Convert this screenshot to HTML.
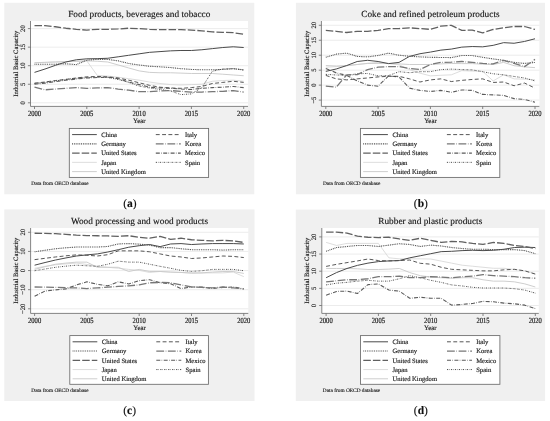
<!DOCTYPE html>
<html><head><meta charset="utf-8"><title>Industrial Basic Capacity</title>
<style>html,body{margin:0;padding:0;background:#fff;}svg{display:block;filter:blur(0.3px);}.t{fill:#1a1a1a;stroke:#1a1a1a;stroke-width:1.5px;}.u{fill:#111;stroke:#111;stroke-width:1.2px;}</style></head>
<body><svg width="550" height="421" viewBox="0 0 550 421" font-family="'Liberation Serif','Times New Roman',serif">
<rect width="550" height="421" fill="#fff"/>
<rect x="4.3" y="2.8" width="250" height="191.5" fill="#f0f0f0"/>
<rect x="30.5" y="21" width="217.5" height="85.4" fill="#fff"/>
<path d="M30.5,102.8H248" stroke="#e4e4e4" stroke-width="0.7"/>
<path d="M30.5,84.25H248" stroke="#e4e4e4" stroke-width="0.7"/>
<path d="M30.5,65.7H248" stroke="#e4e4e4" stroke-width="0.7"/>
<path d="M30.5,47.15H248" stroke="#e4e4e4" stroke-width="0.7"/>
<path d="M30.5,28.6H248" stroke="#e4e4e4" stroke-width="0.7"/>
<g fill="none" stroke-linejoin="round">
<path d="M34.5,62.73L44.96,62.36L55.42,61.99L65.88,61.62L76.34,61.25L86.8,60.88L97.26,75.35L107.72,76.09L118.18,77.2L128.64,78.69L139.1,80.17L149.56,82.02L160.02,83.51L170.48,84.62L180.94,84.99L191.4,84.62L201.86,84.25L212.32,81.28L222.78,80.54L233.24,80.17L243.7,81.28" stroke="#d4d4d4" stroke-width="0.8"/>
<path d="M34.5,62.73L44.96,62.36L55.42,61.99L65.88,61.62L76.34,61.25L86.8,60.88L97.26,61.25L107.72,61.99L118.18,64.96L128.64,67.93L139.1,70.89L149.56,72.38L160.02,72.75L170.48,72.75L180.94,73.12L191.4,73.49L201.86,73.49L212.32,73.49L222.78,74.23L233.24,74.97L243.7,75.72" stroke="#c8c8c8" stroke-width="0.9"/>
<path d="M34.5,64.22L44.96,64.22L55.42,64.22L65.88,63.84L76.34,64.59L86.8,60.14L97.26,59.39L107.72,59.39L118.18,60.88L128.64,63.47L139.1,64.96L149.56,66.26L160.02,66.81L170.48,67.56L180.94,68.67L191.4,69.41L201.86,69.78L212.32,69.78L222.78,69.41L233.24,68.67L243.7,69.78" stroke="#444" stroke-width="1.1" stroke-dasharray="0.9 0.9"/>
<path d="M34.5,83.51L44.96,82.4L55.42,80.91L65.88,79.43L76.34,78.31L86.8,77.57L97.26,77.2L107.72,77.57L118.18,79.43L128.64,82.4L139.1,86.1L149.56,87.96L160.02,89.44L170.48,90.93L180.94,94.64L191.4,93.9L201.86,87.59L212.32,71.27L222.78,69.04L233.24,68.67L243.7,70.15" stroke="#3a3a3a" stroke-width="0.9" stroke-dasharray="1.2 0.95 0.5 1.3"/>
<path d="M34.5,84.25L44.96,83.14L55.42,81.65L65.88,80.17L76.34,79.06L86.8,77.94L97.26,77.57L107.72,77.2L118.18,78.69L128.64,82.02L139.1,84.62L149.56,87.22L160.02,87.96L170.48,88.33L180.94,89.07L191.4,89.44L201.86,88.33L212.32,87.59L222.78,87.22L233.24,86.48L243.7,87.59" stroke="#5a5a5a" stroke-width="1.1" stroke-dasharray="4 1.3 0.6 1.5"/>
<path d="M34.5,87.22L44.96,89.81L55.42,89.07L65.88,88.33L76.34,87.59L86.8,88.33L97.26,87.96L107.72,87.59L118.18,89.07L128.64,90.19L139.1,91.67L149.56,91.67L160.02,90.93L170.48,90.56L180.94,91.3L191.4,92.04L201.86,92.04L212.32,91.67L222.78,91.3L233.24,90.56L243.7,92.04" stroke="#777" stroke-width="1.3" stroke-dasharray="7.8 1.6 0.6 1.6"/>
<path d="M34.5,83.14L44.96,82.02L55.42,80.54L65.88,79.43L76.34,77.94L86.8,76.83L97.26,76.46L107.72,76.83L118.18,77.94L128.64,80.17L139.1,82.77L149.56,85.36L160.02,87.22L170.48,87.96L180.94,88.33L191.4,87.59L201.86,86.48L212.32,83.51L222.78,82.4L233.24,81.28L243.7,82.4" stroke="#444" stroke-width="0.9" stroke-dasharray="3.9 2.4"/>
<path d="M34.5,72.38L44.96,69.04L55.42,65.33L65.88,61.99L76.34,59.76L86.8,58.84L97.26,58.65L107.72,58.28L118.18,56.8L128.64,55.31L139.1,53.83L149.56,52.34L160.02,51.6L170.48,50.86L180.94,50.49L191.4,50.49L201.86,49.75L212.32,48.63L222.78,47.52L233.24,46.78L243.7,47.52" stroke="#4a4a4a" stroke-width="1.0"/>
<path d="M34.5,25.63L44.96,25.63L55.42,26.75L65.88,28.23L76.34,29.34L86.8,30.08L97.26,29.34L107.72,29.34L118.18,28.97L128.64,28.23L139.1,28.6L149.56,29.34L160.02,29.71L170.48,29.71L180.94,29.71L191.4,30.08L201.86,30.83L212.32,31.94L222.78,32.31L233.24,32.68L243.7,34.17" stroke="#606060" stroke-width="1.3" stroke-dasharray="7.5 2.1"/>
</g>
<path d="M30.5,21V106.4H248M27.9,102.8H30.5M27.9,84.25H30.5M27.9,65.7H30.5M27.9,47.15H30.5M27.9,28.6H30.5M34.5,106.4V109M86.8,106.4V109M139.1,106.4V109M191.4,106.4V109M243.7,106.4V109" fill="none" stroke="#707070" stroke-width="0.85"/>
<text class="t" transform="translate(24.8,102.8) rotate(-90) skewX(0.1) scale(0.1)" font-size="66" text-anchor="middle">0</text><text class="t" transform="translate(24.8,84.25) rotate(-90) skewX(0.1) scale(0.1)" font-size="66" text-anchor="middle">5</text><text class="t" transform="translate(24.8,65.7) rotate(-90) skewX(0.1) scale(0.1)" font-size="66" text-anchor="middle">10</text><text class="t" transform="translate(24.8,47.15) rotate(-90) skewX(0.1) scale(0.1)" font-size="66" text-anchor="middle">15</text><text class="t" transform="translate(24.8,28.6) rotate(-90) skewX(0.1) scale(0.1)" font-size="66" text-anchor="middle">20</text><text class="t" transform="translate(34.5,115.7) skewX(0.1) scale(0.1,0.12)" font-size="66" text-anchor="middle">2000</text><text class="t" transform="translate(86.8,115.7) skewX(0.1) scale(0.1,0.12)" font-size="66" text-anchor="middle">2005</text><text class="t" transform="translate(139.1,115.7) skewX(0.1) scale(0.1,0.12)" font-size="66" text-anchor="middle">2010</text><text class="t" transform="translate(191.4,115.7) skewX(0.1) scale(0.1,0.12)" font-size="66" text-anchor="middle">2015</text><text class="t" transform="translate(243.7,115.7) skewX(0.1) scale(0.1,0.12)" font-size="66" text-anchor="middle">2020</text>
<text class="t" transform="translate(139.25,122.5) skewX(0.1) scale(0.1)" font-size="68" text-anchor="middle">Year</text>
<text class="t" transform="translate(17.7,63.7) rotate(-90) skewX(0.1) scale(0.1)" font-size="65.5" text-anchor="middle">Industrial Basic Capacity</text>
<text class="u" transform="translate(139.25,17.4) skewX(0.1) scale(0.1)" font-size="93" text-anchor="middle">Food products, beverages and tobacco</text>
<rect x="69.3" y="128.4" width="139.3" height="49" fill="#fff" stroke="#6a6a6a" stroke-width="0.85"/>
<path d="M72.1,134.6H96.8" stroke="#4a4a4a" stroke-width="1.0"/><path d="M72.1,143.85H96.8" stroke="#444" stroke-width="1.1" stroke-dasharray="0.9 0.9"/><path d="M72.1,153.1H96.8" stroke="#606060" stroke-width="1.3" stroke-dasharray="7.5 2.1"/><path d="M72.1,162.35H96.8" stroke="#d4d4d4" stroke-width="0.8"/><path d="M72.1,171.6H96.8" stroke="#c8c8c8" stroke-width="0.9"/><path d="M155.8,134.6H180.8" stroke="#444" stroke-width="0.9" stroke-dasharray="3.9 2.4"/><path d="M155.8,143.85H180.8" stroke="#777" stroke-width="1.3" stroke-dasharray="7.8 1.6 0.6 1.6"/><path d="M155.8,153.1H180.8" stroke="#5a5a5a" stroke-width="1.1" stroke-dasharray="4 1.3 0.6 1.5"/><path d="M155.8,162.35H180.8" stroke="#3a3a3a" stroke-width="0.9" stroke-dasharray="1.2 0.95 0.5 1.3"/>
<text class="t" transform="translate(101.3,136.9) skewX(0.1) scale(0.1)" font-size="66">China</text><text class="t" transform="translate(101.3,146.15) skewX(0.1) scale(0.1)" font-size="66">Germany</text><text class="t" transform="translate(101.3,155.4) skewX(0.1) scale(0.1)" font-size="66">United States</text><text class="t" transform="translate(101.3,164.65) skewX(0.1) scale(0.1)" font-size="66">Japan</text><text class="t" transform="translate(101.3,173.9) skewX(0.1) scale(0.1)" font-size="66">United Kingdom</text><text class="t" transform="translate(185,136.9) skewX(0.1) scale(0.1)" font-size="66">Italy</text><text class="t" transform="translate(185,146.15) skewX(0.1) scale(0.1)" font-size="66">Korea</text><text class="t" transform="translate(185,155.4) skewX(0.1) scale(0.1)" font-size="66">Mexico</text><text class="t" transform="translate(185,164.65) skewX(0.1) scale(0.1)" font-size="66">Spain</text>
<text class="t" transform="translate(31.3,185.1) skewX(0.1) scale(0.1)" font-size="53.5">Data from OECD database</text>
<text class="u" transform="translate(129.9,206.8) skewX(0.1) scale(0.1)" font-size="115" text-anchor="middle">(<tspan font-weight="bold">a</tspan>)</text>
<rect x="295.9" y="2.8" width="249.1" height="191.5" fill="#f0f0f0"/>
<rect x="321.4" y="21" width="218" height="85.4" fill="#fff"/>
<path d="M321.4,100.1H539.4" stroke="#e4e4e4" stroke-width="0.7"/>
<path d="M321.4,85.14H539.4" stroke="#e4e4e4" stroke-width="0.7"/>
<path d="M321.4,70.18H539.4" stroke="#e4e4e4" stroke-width="0.7"/>
<path d="M321.4,55.22H539.4" stroke="#e4e4e4" stroke-width="0.7"/>
<path d="M321.4,40.26H539.4" stroke="#e4e4e4" stroke-width="0.7"/>
<path d="M321.4,25.3H539.4" stroke="#e4e4e4" stroke-width="0.7"/>
<g fill="none" stroke-linejoin="round">
<path d="M325.8,67.19L336.26,66.59L346.72,65.69L357.18,64.5L367.64,63.3L378.1,62.4L388.56,63.6L399.02,64.79L409.48,69.58L419.94,73.17L430.4,75.86L440.86,75.27L451.32,74.82L461.78,70.63L472.24,71.08L482.7,71.38L493.16,80.95L503.62,74.82L514.08,78.86L524.54,79.16L535,79.75" stroke="#d4d4d4" stroke-width="0.8"/>
<path d="M325.8,65.54L336.26,65.99L346.72,65.69L357.18,64.5L367.64,63.45L378.1,63.45L388.56,63.45L399.02,63.9L409.48,64.5L419.94,64.5L430.4,64.5L440.86,63.9L451.32,63.45L461.78,63.6L472.24,63.6L482.7,64.2L493.16,64.5L503.62,62.4L514.08,65.69L524.54,66.89L535,67.64" stroke="#c8c8c8" stroke-width="0.9"/>
<path d="M325.8,57.31L336.26,54.17L346.72,53.13L357.18,56.42L367.64,56.87L378.1,55.52L388.56,53.13L399.02,55.22L409.48,56.27L419.94,56.87L430.4,57.31L440.86,57.46L451.32,57.61L461.78,55.52L472.24,55.52L482.7,57.31L493.16,58.96L503.62,60.31L514.08,62.4L524.54,63.45L535,62.4" stroke="#444" stroke-width="1.1" stroke-dasharray="0.9 0.9"/>
<path d="M325.8,74.37L336.26,74.97L346.72,75.42L357.18,73.77L367.64,73.47L378.1,75.86L388.56,75.57L399.02,71.68L409.48,72.72L419.94,71.68L430.4,71.68L440.86,69.58L451.32,69.13L461.78,69.58L472.24,69.88L482.7,71.68L493.16,73.77L503.62,74.82L514.08,76.46L524.54,77.96L535,80.95" stroke="#3a3a3a" stroke-width="0.9" stroke-dasharray="1.2 0.95 0.5 1.3"/>
<path d="M325.8,68.53L336.26,72.87L346.72,75.42L357.18,80.95L367.64,85.14L378.1,86.19L388.56,75.86L399.02,76.91L409.48,88.13L419.94,90.38L430.4,91.42L440.86,90.38L451.32,92.32L461.78,89.93L472.24,90.38L482.7,94.42L493.16,94.86L503.62,95.46L514.08,98.6L524.54,99.5L535,102.19" stroke="#5a5a5a" stroke-width="1.1" stroke-dasharray="4 1.3 0.6 1.5"/>
<path d="M325.8,86.19L336.26,87.23L346.72,74.82L357.18,74.67L367.64,69.58L378.1,67.19L388.56,66.59L399.02,66.59L409.48,68.53L419.94,69.58L430.4,64.5L440.86,62.4L451.32,62.1L461.78,61.5L472.24,62.4L482.7,63.45L493.16,63.9L503.62,60.31L514.08,63.45L524.54,66.59L535,59.41" stroke="#777" stroke-width="1.3" stroke-dasharray="7.8 1.6 0.6 1.6"/>
<path d="M325.8,75.42L336.26,78.86L346.72,79.9L357.18,78.86L367.64,77.96L378.1,76.91L388.56,76.31L399.02,76.31L409.48,78.86L419.94,82L430.4,79.9L440.86,78.86L451.32,81.55L461.78,80.35L472.24,79.46L482.7,78.86L493.16,82.45L503.62,82L514.08,85.74L524.54,83.05L535,88.13" stroke="#444" stroke-width="0.9" stroke-dasharray="3.9 2.4"/>
<path d="M325.8,71.38L336.26,68.98L346.72,65.54L357.18,61.5L367.64,60.31L378.1,61.5L388.56,63.6L399.02,62.4L409.48,56.42L419.94,53.72L430.4,52.08L440.86,50.13L451.32,49.09L461.78,47.14L472.24,46.54L482.7,46.84L493.16,45.35L503.62,42.65L514.08,43.25L524.54,41.46L535,38.76" stroke="#4a4a4a" stroke-width="1.0"/>
<path d="M325.8,30.39L336.26,31.28L346.72,32.48L357.18,31.28L367.64,31.28L378.1,30.39L388.56,28.59L399.02,28.59L409.48,27.84L419.94,28.59L430.4,29.34L440.86,26.2L451.32,25.3L461.78,30.39L472.24,30.09L482.7,32.78L493.16,29.49L503.62,27.69L514.08,26.5L524.54,26.5L535,29.49" stroke="#606060" stroke-width="1.3" stroke-dasharray="7.5 2.1"/>
</g>
<path d="M321.4,21V106.4H539.4M318.8,100.1H321.4M318.8,85.14H321.4M318.8,70.18H321.4M318.8,55.22H321.4M318.8,40.26H321.4M318.8,25.3H321.4M325.8,106.4V109M378.1,106.4V109M430.4,106.4V109M482.7,106.4V109M535,106.4V109" fill="none" stroke="#707070" stroke-width="0.85"/>
<text class="t" transform="translate(315.7,100.1) rotate(-90) skewX(0.1) scale(0.1)" font-size="66" text-anchor="middle">−5</text><text class="t" transform="translate(315.7,85.14) rotate(-90) skewX(0.1) scale(0.1)" font-size="66" text-anchor="middle">0</text><text class="t" transform="translate(315.7,70.18) rotate(-90) skewX(0.1) scale(0.1)" font-size="66" text-anchor="middle">5</text><text class="t" transform="translate(315.7,55.22) rotate(-90) skewX(0.1) scale(0.1)" font-size="66" text-anchor="middle">10</text><text class="t" transform="translate(315.7,40.26) rotate(-90) skewX(0.1) scale(0.1)" font-size="66" text-anchor="middle">15</text><text class="t" transform="translate(315.7,25.3) rotate(-90) skewX(0.1) scale(0.1)" font-size="66" text-anchor="middle">20</text><text class="t" transform="translate(325.8,115.7) skewX(0.1) scale(0.1,0.12)" font-size="66" text-anchor="middle">2000</text><text class="t" transform="translate(378.1,115.7) skewX(0.1) scale(0.1,0.12)" font-size="66" text-anchor="middle">2005</text><text class="t" transform="translate(430.4,115.7) skewX(0.1) scale(0.1,0.12)" font-size="66" text-anchor="middle">2010</text><text class="t" transform="translate(482.7,115.7) skewX(0.1) scale(0.1,0.12)" font-size="66" text-anchor="middle">2015</text><text class="t" transform="translate(535,115.7) skewX(0.1) scale(0.1,0.12)" font-size="66" text-anchor="middle">2020</text>
<text class="t" transform="translate(430.4,122.5) skewX(0.1) scale(0.1)" font-size="68" text-anchor="middle">Year</text>
<text class="t" transform="translate(309.3,63.7) rotate(-90) skewX(0.1) scale(0.1)" font-size="65.5" text-anchor="middle">Industrial Basic Capacity</text>
<text class="u" transform="translate(430.4,17.4) skewX(0.1) scale(0.1)" font-size="93" text-anchor="middle">Coke and refined petroleum products</text>
<rect x="360.4" y="128.4" width="139.4" height="49" fill="#fff" stroke="#6a6a6a" stroke-width="0.85"/>
<path d="M363.2,134.6H387.9" stroke="#4a4a4a" stroke-width="1.0"/><path d="M363.2,143.85H387.9" stroke="#444" stroke-width="1.1" stroke-dasharray="0.9 0.9"/><path d="M363.2,153.1H387.9" stroke="#606060" stroke-width="1.3" stroke-dasharray="7.5 2.1"/><path d="M363.2,162.35H387.9" stroke="#d4d4d4" stroke-width="0.8"/><path d="M363.2,171.6H387.9" stroke="#c8c8c8" stroke-width="0.9"/><path d="M446.9,134.6H471.9" stroke="#444" stroke-width="0.9" stroke-dasharray="3.9 2.4"/><path d="M446.9,143.85H471.9" stroke="#777" stroke-width="1.3" stroke-dasharray="7.8 1.6 0.6 1.6"/><path d="M446.9,153.1H471.9" stroke="#5a5a5a" stroke-width="1.1" stroke-dasharray="4 1.3 0.6 1.5"/><path d="M446.9,162.35H471.9" stroke="#3a3a3a" stroke-width="0.9" stroke-dasharray="1.2 0.95 0.5 1.3"/>
<text class="t" transform="translate(392.4,136.9) skewX(0.1) scale(0.1)" font-size="66">China</text><text class="t" transform="translate(392.4,146.15) skewX(0.1) scale(0.1)" font-size="66">Germany</text><text class="t" transform="translate(392.4,155.4) skewX(0.1) scale(0.1)" font-size="66">United States</text><text class="t" transform="translate(392.4,164.65) skewX(0.1) scale(0.1)" font-size="66">Japan</text><text class="t" transform="translate(392.4,173.9) skewX(0.1) scale(0.1)" font-size="66">United Kingdom</text><text class="t" transform="translate(476.1,136.9) skewX(0.1) scale(0.1)" font-size="66">Italy</text><text class="t" transform="translate(476.1,146.15) skewX(0.1) scale(0.1)" font-size="66">Korea</text><text class="t" transform="translate(476.1,155.4) skewX(0.1) scale(0.1)" font-size="66">Mexico</text><text class="t" transform="translate(476.1,164.65) skewX(0.1) scale(0.1)" font-size="66">Spain</text>
<text class="t" transform="translate(322.9,185.1) skewX(0.1) scale(0.1)" font-size="53.5">Data from OECD database</text>
<text class="u" transform="translate(420.9,206.8) skewX(0.1) scale(0.1)" font-size="115" text-anchor="middle">(<tspan font-weight="bold">b</tspan>)</text>
<rect x="4.3" y="209.4" width="250.2" height="191.6" fill="#f0f0f0"/>
<rect x="30.6" y="228" width="217.7" height="85.4" fill="#fff"/>
<path d="M30.6,308.8H248.3" stroke="#e4e4e4" stroke-width="0.7"/>
<path d="M30.6,289.68H248.3" stroke="#e4e4e4" stroke-width="0.7"/>
<path d="M30.6,270.55H248.3" stroke="#e4e4e4" stroke-width="0.7"/>
<path d="M30.6,251.43H248.3" stroke="#e4e4e4" stroke-width="0.7"/>
<path d="M30.6,232.3H248.3" stroke="#e4e4e4" stroke-width="0.7"/>
<g fill="none" stroke-linejoin="round">
<path d="M34.6,268.25L45.06,266.34L55.52,264.81L65.98,263.86L76.44,263.09L86.9,264.43L97.36,266.34L107.82,267.3L118.28,268.25L128.74,269.4L139.2,270.36L149.66,272.46L160.12,271.51L170.58,272.08L181.04,272.46L191.5,273.42L201.96,273.04L212.42,272.85L222.88,272.85L233.34,272.08L243.8,276.67" stroke="#d4d4d4" stroke-width="0.8"/>
<path d="M34.6,269.4L45.06,266.73L55.52,264.24L65.98,263.09L76.44,262.13L86.9,262.13L97.36,267.3L107.82,267.3L118.28,267.3L128.74,271.51L139.2,269.4L149.66,271.51L160.12,271.51L170.58,272.08L181.04,272.46L191.5,272.85L201.96,272.85L212.42,272.08L222.88,271.51L233.34,271.51L243.8,273.42" stroke="#c8c8c8" stroke-width="0.9"/>
<path d="M34.6,251.81L45.06,250.28L55.52,248.75L65.98,247.79L76.44,247.03L86.9,247.03L97.36,247.03L107.82,246.45L118.28,243.97L128.74,243.58L139.2,244.16L149.66,245.11L160.12,247.6L170.58,247.6L181.04,248.75L191.5,249.7L201.96,249.7L212.42,249.7L222.88,250.09L233.34,249.7L243.8,249.7" stroke="#444" stroke-width="1.1" stroke-dasharray="0.9 0.9"/>
<path d="M34.6,270.74L45.06,269.02L55.52,267.3L65.98,266.15L76.44,265.19L86.9,265.77L97.36,266.34L107.82,264.24L118.28,261.18L128.74,262.13L139.2,262.13L149.66,264.24L160.12,266.34L170.58,268.25L181.04,270.36L191.5,271.41L201.96,270.74L212.42,269.4L222.88,269.4L233.34,269.4L243.8,270.74" stroke="#3a3a3a" stroke-width="0.9" stroke-dasharray="1.2 0.95 0.5 1.3"/>
<path d="M34.6,296.18L45.06,291.01L55.52,289.87L65.98,288.91L76.44,284.89L86.9,281.83L97.36,284.32L107.82,285.85L118.28,281.83L128.74,283.94L139.2,280.69L149.66,279.73L160.12,282.79L170.58,283.75L181.04,288.53L191.5,287L201.96,287L212.42,288.53L222.88,287.38L233.34,287L243.8,288.91" stroke="#5a5a5a" stroke-width="1.1" stroke-dasharray="4 1.3 0.6 1.5"/>
<path d="M34.6,287L45.06,287.19L55.52,287.38L65.98,287.76L76.44,287.95L86.9,288.53L97.36,287.95L107.82,287.19L118.28,286.42L128.74,285.85L139.2,284.89L149.66,282.79L160.12,282.41L170.58,282.79L181.04,284.89L191.5,287L201.96,287.38L212.42,287.95L222.88,287L233.34,287.95L243.8,288.91" stroke="#777" stroke-width="1.3" stroke-dasharray="7.8 1.6 0.6 1.6"/>
<path d="M34.6,259.65L45.06,258.31L55.52,256.97L65.98,255.82L76.44,254.87L86.9,255.25L97.36,256.01L107.82,254.68L118.28,250.85L128.74,250.85L139.2,250.85L149.66,251.81L160.12,253.91L170.58,256.01L181.04,256.97L191.5,258.5L201.96,257.93L212.42,256.97L222.88,256.01L233.34,256.4L243.8,257.55" stroke="#444" stroke-width="0.9" stroke-dasharray="3.9 2.4"/>
<path d="M34.6,265.19L45.06,262.52L55.52,260.03L65.98,257.93L76.44,256.01L86.9,254.87L97.36,253.91L107.82,252L118.28,249.7L128.74,247.22L139.2,245.69L149.66,244.54L160.12,246.64L170.58,243.97L181.04,243.58L191.5,244.54L201.96,243.97L212.42,243.58L222.88,243.58L233.34,243.58L243.8,243.97" stroke="#4a4a4a" stroke-width="1.0"/>
<path d="M34.6,233.26L45.06,233.45L55.52,233.64L65.98,234.4L76.44,235.17L86.9,235.55L97.36,235.74L107.82,235.93L118.28,236.32L128.74,235.74L139.2,237.27L149.66,238.23L160.12,236.32L170.58,239.38L181.04,238.23L191.5,239.76L201.96,240.33L212.42,240.91L222.88,240.33L233.34,240.91L243.8,242.44" stroke="#606060" stroke-width="1.3" stroke-dasharray="7.5 2.1"/>
</g>
<path d="M30.6,228V313.4H248.3M28,308.8H30.6M28,289.68H30.6M28,270.55H30.6M28,251.43H30.6M28,232.3H30.6M34.6,313.4V316M86.9,313.4V316M139.2,313.4V316M191.5,313.4V316M243.8,313.4V316" fill="none" stroke="#707070" stroke-width="0.85"/>
<text class="t" transform="translate(24.9,308.8) rotate(-90) skewX(0.1) scale(0.1)" font-size="66" text-anchor="middle">−20</text><text class="t" transform="translate(24.9,289.68) rotate(-90) skewX(0.1) scale(0.1)" font-size="66" text-anchor="middle">−10</text><text class="t" transform="translate(24.9,270.55) rotate(-90) skewX(0.1) scale(0.1)" font-size="66" text-anchor="middle">0</text><text class="t" transform="translate(24.9,251.43) rotate(-90) skewX(0.1) scale(0.1)" font-size="66" text-anchor="middle">10</text><text class="t" transform="translate(24.9,232.3) rotate(-90) skewX(0.1) scale(0.1)" font-size="66" text-anchor="middle">20</text><text class="t" transform="translate(34.6,322.7) skewX(0.1) scale(0.1,0.12)" font-size="66" text-anchor="middle">2000</text><text class="t" transform="translate(86.9,322.7) skewX(0.1) scale(0.1,0.12)" font-size="66" text-anchor="middle">2005</text><text class="t" transform="translate(139.2,322.7) skewX(0.1) scale(0.1,0.12)" font-size="66" text-anchor="middle">2010</text><text class="t" transform="translate(191.5,322.7) skewX(0.1) scale(0.1,0.12)" font-size="66" text-anchor="middle">2015</text><text class="t" transform="translate(243.8,322.7) skewX(0.1) scale(0.1,0.12)" font-size="66" text-anchor="middle">2020</text>
<text class="t" transform="translate(139.45,329.5) skewX(0.1) scale(0.1)" font-size="68" text-anchor="middle">Year</text>
<text class="t" transform="translate(17.7,270.7) rotate(-90) skewX(0.1) scale(0.1)" font-size="65.5" text-anchor="middle">Industrial Basic Capacity</text>
<text class="u" transform="translate(139.45,224) skewX(0.1) scale(0.1)" font-size="93" text-anchor="middle">Wood processing and wood products</text>
<rect x="69.8" y="335.6" width="138.6" height="48.7" fill="#fff" stroke="#6a6a6a" stroke-width="0.85"/>
<path d="M72.6,341.8H97.3" stroke="#4a4a4a" stroke-width="1.0"/><path d="M72.6,351.05H97.3" stroke="#444" stroke-width="1.1" stroke-dasharray="0.9 0.9"/><path d="M72.6,360.3H97.3" stroke="#606060" stroke-width="1.3" stroke-dasharray="7.5 2.1"/><path d="M72.6,369.55H97.3" stroke="#d4d4d4" stroke-width="0.8"/><path d="M72.6,378.8H97.3" stroke="#c8c8c8" stroke-width="0.9"/><path d="M156.3,341.8H181.3" stroke="#444" stroke-width="0.9" stroke-dasharray="3.9 2.4"/><path d="M156.3,351.05H181.3" stroke="#777" stroke-width="1.3" stroke-dasharray="7.8 1.6 0.6 1.6"/><path d="M156.3,360.3H181.3" stroke="#5a5a5a" stroke-width="1.1" stroke-dasharray="4 1.3 0.6 1.5"/><path d="M156.3,369.55H181.3" stroke="#3a3a3a" stroke-width="0.9" stroke-dasharray="1.2 0.95 0.5 1.3"/>
<text class="t" transform="translate(101.8,344.1) skewX(0.1) scale(0.1)" font-size="66">China</text><text class="t" transform="translate(101.8,353.35) skewX(0.1) scale(0.1)" font-size="66">Germany</text><text class="t" transform="translate(101.8,362.6) skewX(0.1) scale(0.1)" font-size="66">United States</text><text class="t" transform="translate(101.8,371.85) skewX(0.1) scale(0.1)" font-size="66">Japan</text><text class="t" transform="translate(101.8,381.1) skewX(0.1) scale(0.1)" font-size="66">United Kingdom</text><text class="t" transform="translate(185.5,344.1) skewX(0.1) scale(0.1)" font-size="66">Italy</text><text class="t" transform="translate(185.5,353.35) skewX(0.1) scale(0.1)" font-size="66">Korea</text><text class="t" transform="translate(185.5,362.6) skewX(0.1) scale(0.1)" font-size="66">Mexico</text><text class="t" transform="translate(185.5,371.85) skewX(0.1) scale(0.1)" font-size="66">Spain</text>
<text class="t" transform="translate(31.3,391.7) skewX(0.1) scale(0.1)" font-size="53.5">Data from OECD database</text>
<text class="u" transform="translate(129.6,413.5) skewX(0.1) scale(0.1)" font-size="115" text-anchor="middle">(<tspan font-weight="bold">c</tspan>)</text>
<rect x="295.8" y="209.6" width="249.3" height="191.4" fill="#f0f0f0"/>
<rect x="321.8" y="228" width="217" height="85.4" fill="#fff"/>
<path d="M321.8,305.5H538.8" stroke="#e4e4e4" stroke-width="0.7"/>
<path d="M321.8,288.35H538.8" stroke="#e4e4e4" stroke-width="0.7"/>
<path d="M321.8,271.2H538.8" stroke="#e4e4e4" stroke-width="0.7"/>
<path d="M321.8,254.05H538.8" stroke="#e4e4e4" stroke-width="0.7"/>
<path d="M321.8,236.9H538.8" stroke="#e4e4e4" stroke-width="0.7"/>
<g fill="none" stroke-linejoin="round">
<path d="M326.1,242.39L336.56,245.47L347.02,243.42L357.48,243.42L367.94,243.42L378.4,243.42L388.86,257.82L399.32,258.85L409.78,258.85L420.24,258.85L430.7,259.02L441.16,261.08L451.62,263.14L462.08,265.2L472.54,266.23L483,267.26L493.46,268.28L503.92,268.28L514.38,269.49L524.84,270.86L535.3,273.6" stroke="#d4d4d4" stroke-width="0.8"/>
<path d="M326.1,268.46L336.56,268.46L347.02,268.46L357.48,268.8L367.94,269.49L378.4,269.49L388.86,269.14L399.32,268.46L409.78,272.57L420.24,275.66L430.7,277.03L441.16,277.72L451.62,278.23L462.08,277.72L472.54,277.72L483,279.77L493.46,281.15L503.92,281.15L514.38,281.83L524.84,283.89L535.3,286.98" stroke="#c8c8c8" stroke-width="0.9"/>
<path d="M326.1,251.31L336.56,247.53L347.02,246.5L357.48,245.47L367.94,245.47L378.4,246.5L388.86,245.13L399.32,243.76L409.78,244.45L420.24,246.5L430.7,245.13L441.16,245.99L451.62,247.53L462.08,248.56L472.54,249.25L483,249.25L493.46,249.59L503.92,249.59L514.38,249.59L524.84,250.62L535.3,253.71" stroke="#444" stroke-width="1.1" stroke-dasharray="0.9 0.9"/>
<path d="M326.1,284.92L336.56,283.2L347.02,282.35L357.48,281.15L367.94,280.29L378.4,281.15L388.86,281.15L399.32,278.75L409.78,275.66L420.24,277.72L430.7,280.29L441.16,282.35L451.62,284.92L462.08,285.95L472.54,287.32L483,288.01L493.46,288.01L503.92,288.01L514.38,288.69L524.84,290.06L535.3,293.15" stroke="#3a3a3a" stroke-width="0.9" stroke-dasharray="1.2 0.95 0.5 1.3"/>
<path d="M326.1,295.21L336.56,291.44L347.02,291.09L357.48,293.5L367.94,284.58L378.4,283.89L388.86,290.06L399.32,291.09L409.78,298.3L420.24,297.27L430.7,298.3L441.16,298.3L451.62,305.16L462.08,304.47L472.54,303.44L483,301.38L493.46,301.73L503.92,303.1L514.38,303.79L524.84,305.16L535.3,308.59" stroke="#5a5a5a" stroke-width="1.1" stroke-dasharray="4 1.3 0.6 1.5"/>
<path d="M326.1,281.83L336.56,280.8L347.02,279.77L357.48,279.77L367.94,278.75L378.4,276.69L388.86,276.69L399.32,276.17L409.78,277.72L420.24,277.72L430.7,276.69L441.16,277.03L451.62,277.72L462.08,276.69L472.54,276.17L483,274.63L493.46,275.66L503.92,276.17L514.38,276.69L524.84,277.72L535.3,278.23" stroke="#777" stroke-width="1.3" stroke-dasharray="7.8 1.6 0.6 1.6"/>
<path d="M326.1,266.4L336.56,264.34L347.02,262.62L357.48,260.91L367.94,259.02L378.4,260.57L388.86,260.91L399.32,260.57L409.78,260.05L420.24,263.31L430.7,264.17L441.16,267.26L451.62,269.31L462.08,269.83L472.54,270.34L483,270.86L493.46,270.86L503.92,269.83L514.38,269.31L524.84,270.86L535.3,274.12" stroke="#444" stroke-width="0.9" stroke-dasharray="3.9 2.4"/>
<path d="M326.1,277.72L336.56,272.57L347.02,268.46L357.48,265.37L367.94,263.14L378.4,261.6L388.86,260.91L399.32,260.57L409.78,257.82L420.24,255.76L430.7,253.71L441.16,251.65L451.62,251.31L462.08,250.62L472.54,250.28L483,250.62L493.46,250.28L503.92,249.25L514.38,247.53L524.84,247.19L535.3,247.53" stroke="#4a4a4a" stroke-width="1.0"/>
<path d="M326.1,232.1L336.56,232.1L347.02,233.13L357.48,236.21L367.94,237.24L378.4,237.59L388.86,237.24L399.32,238.96L409.78,240.33L420.24,238.27L430.7,240.33L441.16,242.39L451.62,241.36L462.08,241.87L472.54,243.42L483,244.45L493.46,242.39L503.92,243.42L514.38,245.47L524.84,246.5L535.3,248.56" stroke="#606060" stroke-width="1.3" stroke-dasharray="7.5 2.1"/>
</g>
<path d="M321.8,228V313.4H538.8M319.2,305.5H321.8M319.2,288.35H321.8M319.2,271.2H321.8M319.2,254.05H321.8M319.2,236.9H321.8M326.1,313.4V316M378.4,313.4V316M430.7,313.4V316M483,313.4V316M535.3,313.4V316" fill="none" stroke="#707070" stroke-width="0.85"/>
<text class="t" transform="translate(316.1,305.5) rotate(-90) skewX(0.1) scale(0.1)" font-size="66" text-anchor="middle">0</text><text class="t" transform="translate(316.1,288.35) rotate(-90) skewX(0.1) scale(0.1)" font-size="66" text-anchor="middle">5</text><text class="t" transform="translate(316.1,271.2) rotate(-90) skewX(0.1) scale(0.1)" font-size="66" text-anchor="middle">10</text><text class="t" transform="translate(316.1,254.05) rotate(-90) skewX(0.1) scale(0.1)" font-size="66" text-anchor="middle">15</text><text class="t" transform="translate(316.1,236.9) rotate(-90) skewX(0.1) scale(0.1)" font-size="66" text-anchor="middle">20</text><text class="t" transform="translate(326.1,322.7) skewX(0.1) scale(0.1,0.12)" font-size="66" text-anchor="middle">2000</text><text class="t" transform="translate(378.4,322.7) skewX(0.1) scale(0.1,0.12)" font-size="66" text-anchor="middle">2005</text><text class="t" transform="translate(430.7,322.7) skewX(0.1) scale(0.1,0.12)" font-size="66" text-anchor="middle">2010</text><text class="t" transform="translate(483,322.7) skewX(0.1) scale(0.1,0.12)" font-size="66" text-anchor="middle">2015</text><text class="t" transform="translate(535.3,322.7) skewX(0.1) scale(0.1,0.12)" font-size="66" text-anchor="middle">2020</text>
<text class="t" transform="translate(430.3,329.5) skewX(0.1) scale(0.1)" font-size="68" text-anchor="middle">Year</text>
<text class="t" transform="translate(309.2,270.7) rotate(-90) skewX(0.1) scale(0.1)" font-size="65.5" text-anchor="middle">Industrial Basic Capacity</text>
<text class="u" transform="translate(430.3,224.2) skewX(0.1) scale(0.1)" font-size="93" text-anchor="middle">Rubber and plastic products</text>
<rect x="360.5" y="335.6" width="139.4" height="48.7" fill="#fff" stroke="#6a6a6a" stroke-width="0.85"/>
<path d="M363.3,341.8H388" stroke="#4a4a4a" stroke-width="1.0"/><path d="M363.3,351.05H388" stroke="#444" stroke-width="1.1" stroke-dasharray="0.9 0.9"/><path d="M363.3,360.3H388" stroke="#606060" stroke-width="1.3" stroke-dasharray="7.5 2.1"/><path d="M363.3,369.55H388" stroke="#d4d4d4" stroke-width="0.8"/><path d="M363.3,378.8H388" stroke="#c8c8c8" stroke-width="0.9"/><path d="M447,341.8H472" stroke="#444" stroke-width="0.9" stroke-dasharray="3.9 2.4"/><path d="M447,351.05H472" stroke="#777" stroke-width="1.3" stroke-dasharray="7.8 1.6 0.6 1.6"/><path d="M447,360.3H472" stroke="#5a5a5a" stroke-width="1.1" stroke-dasharray="4 1.3 0.6 1.5"/><path d="M447,369.55H472" stroke="#3a3a3a" stroke-width="0.9" stroke-dasharray="1.2 0.95 0.5 1.3"/>
<text class="t" transform="translate(392.5,344.1) skewX(0.1) scale(0.1)" font-size="66">China</text><text class="t" transform="translate(392.5,353.35) skewX(0.1) scale(0.1)" font-size="66">Germany</text><text class="t" transform="translate(392.5,362.6) skewX(0.1) scale(0.1)" font-size="66">United States</text><text class="t" transform="translate(392.5,371.85) skewX(0.1) scale(0.1)" font-size="66">Japan</text><text class="t" transform="translate(392.5,381.1) skewX(0.1) scale(0.1)" font-size="66">United Kingdom</text><text class="t" transform="translate(476.2,344.1) skewX(0.1) scale(0.1)" font-size="66">Italy</text><text class="t" transform="translate(476.2,353.35) skewX(0.1) scale(0.1)" font-size="66">Korea</text><text class="t" transform="translate(476.2,362.6) skewX(0.1) scale(0.1)" font-size="66">Mexico</text><text class="t" transform="translate(476.2,371.85) skewX(0.1) scale(0.1)" font-size="66">Spain</text>
<text class="t" transform="translate(322.8,391.9) skewX(0.1) scale(0.1)" font-size="53.5">Data from OECD database</text>
<text class="u" transform="translate(420.9,413.5) skewX(0.1) scale(0.1)" font-size="115" text-anchor="middle">(<tspan font-weight="bold">d</tspan>)</text>
</svg></body></html>
